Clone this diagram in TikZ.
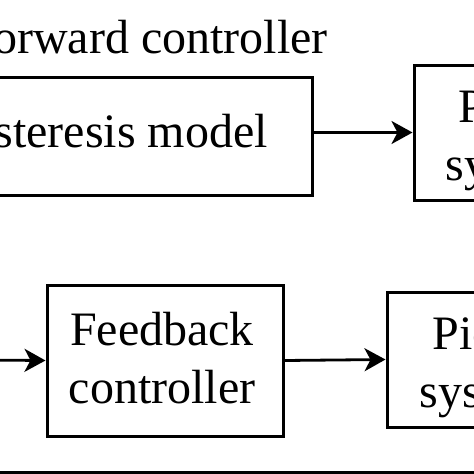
\documentclass[tikz,border=0pt]{standalone}
\usepackage{fontspec}
\setmainfont{Liberation Serif}
\usetikzlibrary{arrows.meta}
\tikzset{
  blockbox/.style={draw=black, line width=3pt, rectangle, inner sep=0pt},
  blocktext/.style={inner sep=0pt, align=center, font=\fontsize{48}{58}\selectfont},
  flow/.style={line width=2.8pt, -{Stealth[length=21pt, width=23pt, inset=6pt]}},
  plainline/.style={line width=3pt}
}
\begin{document}
\begin{tikzpicture}[x=1pt, y=-1pt]
\useasboundingbox (0,0) rectangle (474,474);
\clip (0,0) rectangle (474,474);
\fill[white] (0,0) rectangle (474,474);
% boxes
\node[blockbox, minimum width=402pt, minimum height=118pt] (hyst) at (111,136) {};
\node[blockbox, minimum width=196pt, minimum height=135pt] (pz1) at (512,132.5) {};
\node[blockbox, minimum width=236pt, minimum height=151pt] (fb) at (165,360.5) {};
\node[blockbox, minimum width=198pt, minimum height=135pt] (pz2) at (486,359.5) {};
% texts
\node[blocktext, anchor=base east] (title) at (328,53) {Feedforward controller};
\node[blocktext, anchor=base east] (hystt) at (268,147) {Hysteresis model};
\node[blocktext, anchor=base] (pz1t) at (512,180) {Piezo\\system};
\node[blocktext, anchor=base] (fbt) at (162,403) {Feedback\\controller};
\node[blocktext, anchor=base] (pz2t) at (486,407) {Piezo\\system};
% connectors
\coordinate (in) at (-20,360);
\coordinate (fbl) at (-20,472);
\coordinate (fbr) at (500,472);
\draw[flow] (hyst.east |- pz1.west) -- (pz1.west);
\draw[flow] (in) -- (fb.west);
\draw[flow] (fb.east) -- (pz2.west);
\draw[plainline] (fbl) -- (fbr);
\end{tikzpicture}
\end{document}
